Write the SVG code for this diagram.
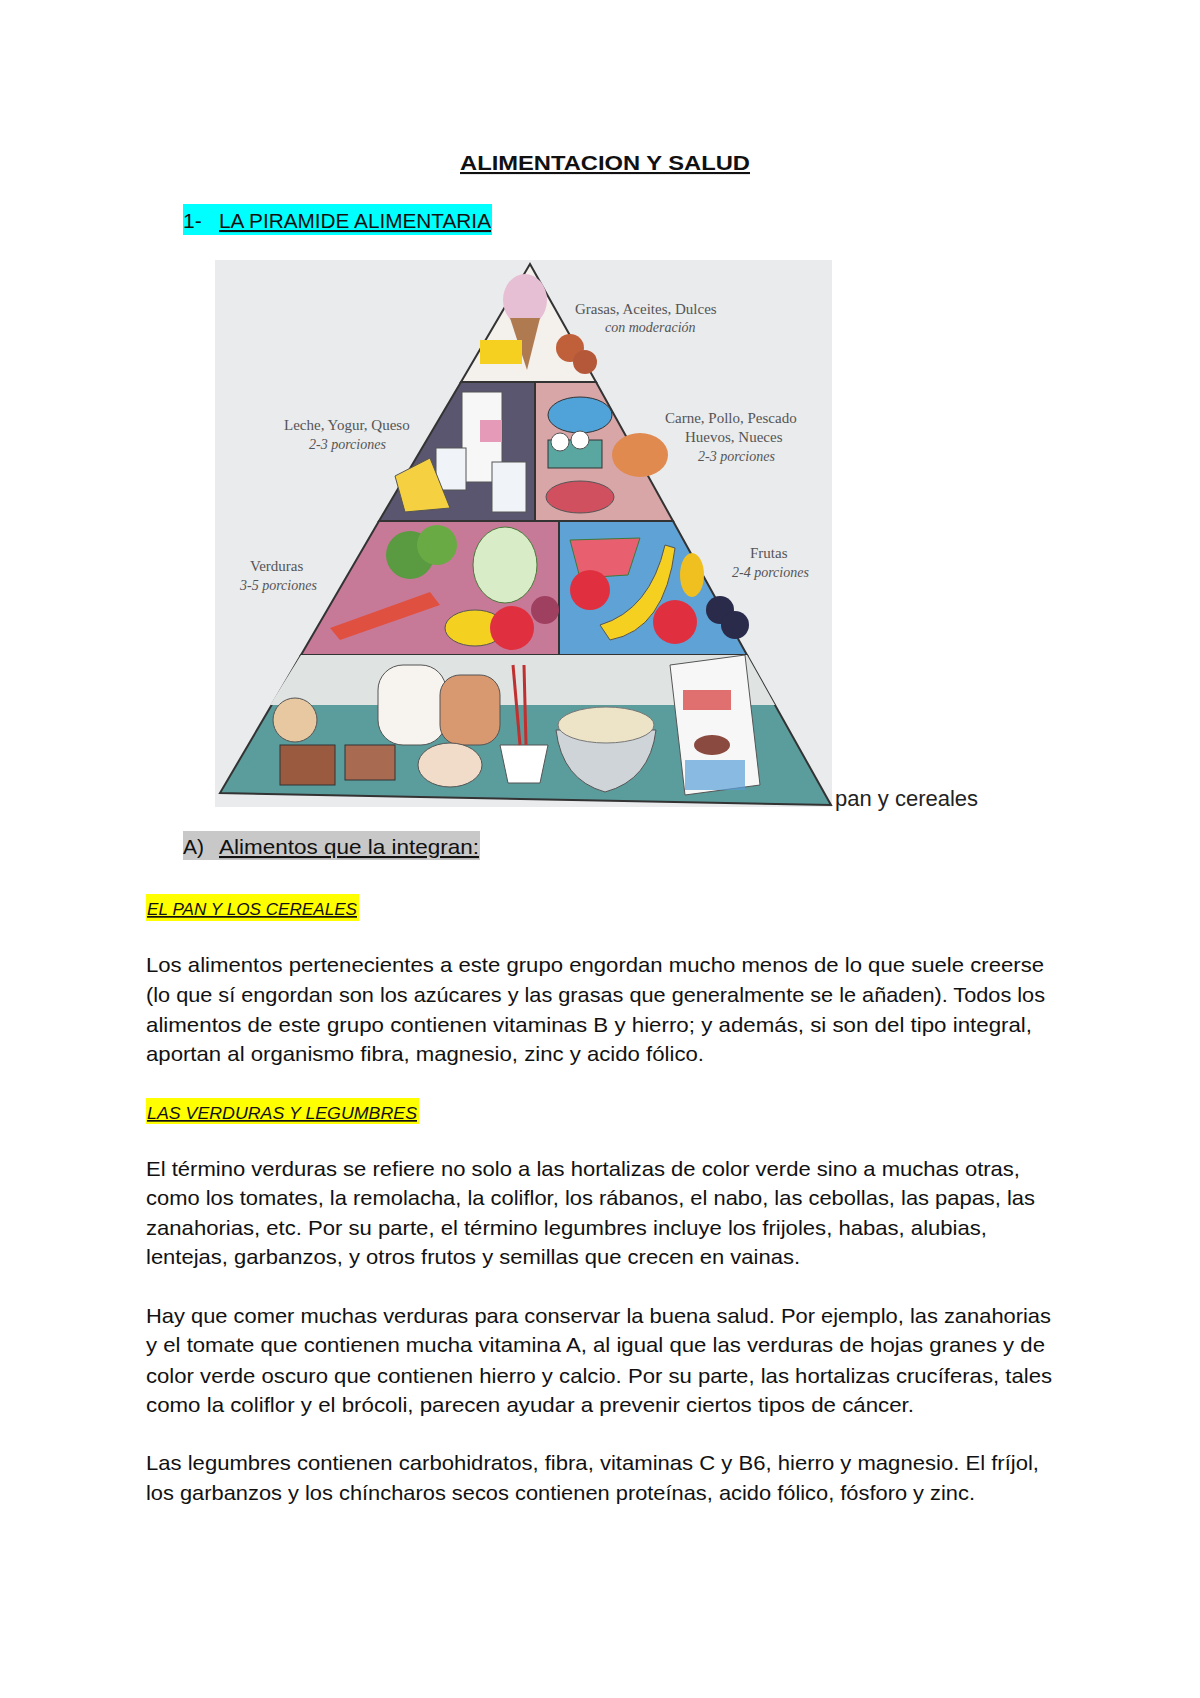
<svg xmlns="http://www.w3.org/2000/svg" width="1200" height="1698" viewBox="0 0 1200 1698">
<style>
.b{font-family:"Liberation Sans",Arial,sans-serif;font-size:21px;fill:#111}
.h{font-family:"Liberation Sans",Arial,sans-serif;font-size:21px;fill:#111;text-decoration:underline}
.s{font-family:"Liberation Sans",Arial,sans-serif;font-size:17px;font-style:italic;fill:#111;text-decoration:underline}
.lab{font-family:"Liberation Serif","Times New Roman",serif;font-size:15px;fill:#555}
.labi{font-family:"Liberation Serif","Times New Roman",serif;font-size:14px;font-style:italic;fill:#555}
</style>
<rect width="1200" height="1698" fill="#fff"/>
<g id="title"><text class="h" x="605" y="170" text-anchor="middle" font-weight="bold" textLength="290" lengthAdjust="spacingAndGlyphs">ALIMENTACION Y SALUD</text></g>
<g id="heading1"><rect x="183" y="204" width="309" height="31" fill="#00ffff"/>
<text class="b" x="183" y="228">1-</text><text class="h" x="219" y="228" textLength="272" lengthAdjust="spacingAndGlyphs">LA PIRAMIDE ALIMENTARIA</text></g>
<g id="pyramid">
<rect x="215" y="260" width="617" height="547" fill="#e9ebed"/>
<polygon points="530,264 596,382 461,382" fill="#f4f0ec" stroke="#333" stroke-width="2"/>
<polygon points="461,382 535,382 535,521 379,521" fill="#5a5670" stroke="#333" stroke-width="2"/>
<polygon points="535,382 596,382 673,521 535,521" fill="#d9a6a8" stroke="#333" stroke-width="2"/>
<polygon points="379,521 559,521 559,655 301,655" fill="#c77a98" stroke="#333" stroke-width="2"/>
<polygon points="559,521 673,521 747,655 559,655" fill="#5fa2d6" stroke="#333" stroke-width="2"/>
<polygon points="301,655 747,655 831,805 220,793" fill="#5b9c9c" stroke="#333" stroke-width="2"/>
<polygon points="301,655 747,655 775,705 270,705" fill="#dfe3e2"/>
<ellipse cx="525" cy="300" rx="22" ry="26" fill="#e6bfd4"/>
<polygon points="510,318 540,318 527,370" fill="#b07a50"/>
<rect x="480" y="340" width="42" height="24" fill="#f5d020"/>
<circle cx="570" cy="348" r="14" fill="#c0603a"/><circle cx="585" cy="362" r="12" fill="#b5583a"/>
<rect x="462" y="392" width="40" height="90" fill="#f7f7f7" stroke="#555"/>
<rect x="480" y="420" width="22" height="22" fill="#e59ab8"/>
<rect x="436" y="448" width="30" height="42" fill="#f0f4f8" stroke="#555"/>
<rect x="492" y="462" width="34" height="50" fill="#f0f4f8" stroke="#555"/>
<polygon points="395,476 430,458 450,508 405,512" fill="#f5d040" stroke="#555"/>
<ellipse cx="580" cy="415" rx="32" ry="18" fill="#4fa3d8" stroke="#333"/>
<rect x="548" y="440" width="54" height="28" fill="#5aa6a0" stroke="#333"/>
<circle cx="560" cy="442" r="9" fill="#fff" stroke="#555"/><circle cx="580" cy="440" r="9" fill="#fff" stroke="#555"/>
<ellipse cx="640" cy="455" rx="28" ry="22" fill="#e08a50"/>
<ellipse cx="580" cy="497" rx="34" ry="16" fill="#d05060" stroke="#555"/>
<circle cx="410" cy="555" r="24" fill="#5a9a40"/><circle cx="437" cy="545" r="20" fill="#6aaa45"/>
<ellipse cx="505" cy="565" rx="32" ry="38" fill="#d8ecc8" stroke="#4a7a3a"/>
<polygon points="330,628 430,592 440,605 340,640" fill="#e05040"/>
<ellipse cx="475" cy="628" rx="30" ry="18" fill="#f4d020" stroke="#555"/>
<circle cx="512" cy="628" r="22" fill="#e03040"/>
<circle cx="545" cy="610" r="14" fill="#a04060"/>
<polygon points="570,540 640,538 628,575 580,578" fill="#e86070" stroke="#3a7a3a"/>
<circle cx="590" cy="590" r="20" fill="#e03040"/>
<path d="M600,625 Q650,610 665,545 L675,548 Q665,630 610,640 Z" fill="#f6d020" stroke="#555"/>
<circle cx="675" cy="622" r="22" fill="#e03040"/>
<circle cx="720" cy="610" r="14" fill="#2a2a4a"/><circle cx="735" cy="625" r="14" fill="#2a2a4a"/>
<ellipse cx="692" cy="575" rx="12" ry="22" fill="#f0c020"/>
<circle cx="295" cy="720" r="22" fill="#e8c8a0" stroke="#555"/>
<rect x="280" y="745" width="55" height="40" fill="#9a5a40" stroke="#333"/>
<rect x="345" y="745" width="50" height="35" fill="#a86a50" stroke="#333"/>
<rect x="378" y="665" width="68" height="80" rx="25" fill="#f7f3ee" stroke="#555"/>
<rect x="440" y="675" width="60" height="70" rx="20" fill="#d89870" stroke="#555"/>
<ellipse cx="450" cy="765" rx="32" ry="22" fill="#f0dcc8" stroke="#555"/>
<path d="M500,745 h48 l-8,38 h-32 Z" fill="#fff" stroke="#555"/>
<line x1="513" y1="665" x2="520" y2="745" stroke="#c03030" stroke-width="3"/><line x1="524" y1="665" x2="526" y2="745" stroke="#c03030" stroke-width="3"/>
<path d="M556,730 h100 Q650,780 605,792 Q562,780 556,730 Z" fill="#cfd4d8" stroke="#555"/>
<ellipse cx="606" cy="725" rx="48" ry="18" fill="#ede4c8" stroke="#777"/>
<polygon points="670,665 745,655 760,785 685,795" fill="#f7f7f7" stroke="#555"/>
<rect x="683" y="690" width="48" height="20" fill="#e07070"/>
<rect x="685" y="760" width="60" height="30" fill="#5aa0d8" opacity="0.7"/>
<ellipse cx="712" cy="745" rx="18" ry="10" fill="#8a4a40"/>
<text class="lab" x="575" y="314">Grasas, Aceites, Dulces</text>
<text class="labi" x="605" y="332">con moderación</text>
<text class="lab" x="284" y="430">Leche, Yogur, Queso</text>
<text class="labi" x="309" y="449">2-3 porciones</text>
<text class="lab" x="665" y="423">Carne, Pollo, Pescado</text>
<text class="lab" x="685" y="442">Huevos, Nueces</text>
<text class="labi" x="698" y="461">2-3 porciones</text>
<text class="lab" x="250" y="571">Verduras</text>
<text class="labi" x="240" y="590">3-5 porciones</text>
<text class="lab" x="750" y="558">Frutas</text>
<text class="labi" x="732" y="577">2-4 porciones</text>
</g>
<g id="caption"><text x="835" y="806" font-family="'Liberation Sans',Arial,sans-serif" font-size="22" fill="#222">pan y cereales</text></g>
<g transform="translate(0,-7)">
<g id="headingA"><rect x="183" y="838" width="297" height="29" fill="#c8c8c8"/>
<text class="b" x="183" y="861">A)</text><text class="h" x="219" y="861" textLength="260" lengthAdjust="spacingAndGlyphs">Alimentos que la integran:</text></g>
<g id="sec1"><rect x="146" y="901" width="213" height="27" fill="#ffff00"/>
<text class="s" x="147" y="922" textLength="210" lengthAdjust="spacingAndGlyphs">EL PAN Y LOS CEREALES</text></g>
<g id="para1">
<text class="b" x="146" y="979" textLength="898" lengthAdjust="spacingAndGlyphs">Los alimentos pertenecientes a este grupo engordan mucho menos de lo que suele creerse</text>
<text class="b" x="146" y="1009" textLength="899" lengthAdjust="spacingAndGlyphs">(lo que sí engordan son los azúcares y las grasas que generalmente se le añaden). Todos los</text>
<text class="b" x="146" y="1039" textLength="886" lengthAdjust="spacingAndGlyphs">alimentos de este grupo contienen vitaminas B y hierro; y además, si son del tipo integral,</text>
<text class="b" x="146" y="1068" textLength="558" lengthAdjust="spacingAndGlyphs">aportan al organismo fibra, magnesio, zinc y acido fólico.</text>
</g>
<g id="sec2"><rect x="146" y="1105" width="273" height="26" fill="#ffff00"/>
<text class="s" x="147" y="1126" textLength="270" lengthAdjust="spacingAndGlyphs">LAS VERDURAS Y LEGUMBRES</text></g>
<g id="para2">
<text class="b" x="146" y="1183" textLength="874" lengthAdjust="spacingAndGlyphs">El término verduras se refiere no solo a las hortalizas de color verde sino a muchas otras,</text>
<text class="b" x="146" y="1212" textLength="889" lengthAdjust="spacingAndGlyphs">como los tomates, la remolacha, la coliflor, los rábanos, el nabo, las cebollas, las papas, las</text>
<text class="b" x="146" y="1242" textLength="841" lengthAdjust="spacingAndGlyphs">zanahorias, etc. Por su parte, el término legumbres incluye los frijoles, habas, alubias,</text>
<text class="b" x="146" y="1271" textLength="654" lengthAdjust="spacingAndGlyphs">lentejas, garbanzos, y otros frutos y semillas que crecen en vainas.</text>
</g>
<g id="para3">
<text class="b" x="146" y="1330" textLength="905" lengthAdjust="spacingAndGlyphs">Hay que comer muchas verduras para conservar la buena salud. Por ejemplo, las zanahorias</text>
<text class="b" x="146" y="1359" textLength="899" lengthAdjust="spacingAndGlyphs">y el tomate que contienen mucha vitamina A, al igual que las verduras de hojas granes y de</text>
<text class="b" x="146" y="1390" textLength="906" lengthAdjust="spacingAndGlyphs">color verde oscuro que contienen hierro y calcio. Por su parte, las hortalizas crucíferas, tales</text>
<text class="b" x="146" y="1419" textLength="768" lengthAdjust="spacingAndGlyphs">como la coliflor y el brócoli, parecen ayudar a prevenir ciertos tipos de cáncer.</text>
</g>
<g id="para4">
<text class="b" x="146" y="1477" textLength="893" lengthAdjust="spacingAndGlyphs">Las legumbres contienen carbohidratos, fibra, vitaminas C y B6, hierro y magnesio. El fríjol,</text>
<text class="b" x="146" y="1507" textLength="829" lengthAdjust="spacingAndGlyphs">los garbanzos y los chíncharos secos contienen proteínas, acido fólico, fósforo y zinc.</text>
</g>
</g>
</svg>
